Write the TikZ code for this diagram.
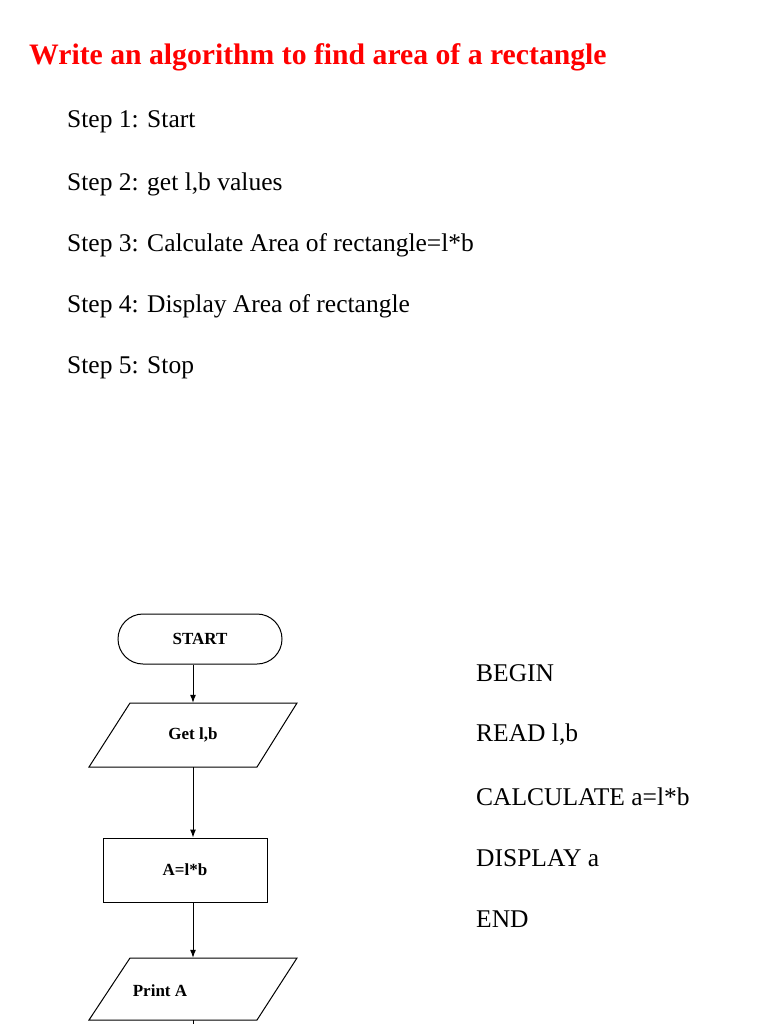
\documentclass[tikz,border=0pt]{standalone}
\usepackage{fontspec}
\usetikzlibrary{arrows.meta}
\setmainfont{Liberation Serif}
\begin{document}
\begin{tikzpicture}[x=1pt,y=-1pt,
  txt/.style={anchor=west,inner sep=0pt,font=\fontsize{25.5}{30}\selectfont},
  fc/.style={inner sep=0pt,font=\fontsize{17}{20}\selectfont\bfseries},
  box/.style={draw,line width=1pt,fill=white},
  arr/.style={-{Latex[length=8pt,width=6pt]},line width=1pt}]
\useasboundingbox[fill=white] (0,0) rectangle (768,1024);
\node[anchor=west,inner sep=0pt,text=red,font=\fontsize{29.7}{34}\selectfont\bfseries] (title) at (29,57) {Write an algorithm to find area of a rectangle};
\node[txt] (s1) at (67,122) {Step 1: Start};
\node[txt] (s2) at (67,184) {Step 2: get l,b values};
\node[txt] (s3) at (67,245) {Step 3: Calculate Area of rectangle=l*b};
\node[txt] (s4) at (67,306) {Step 4: Display Area of rectangle};
\node[txt] (s5) at (67,368) {Step 5: Stop};
\node[txt] (p1) at (476,673) {BEGIN};
\node[txt] (p2) at (476,735) {READ l,b};
\node[txt] (p3) at (476,797) {CALCULATE a=l*b};
\node[txt] (p4) at (476,858) {DISPLAY a};
\node[txt] (p5) at (476,919) {END};
% flowchart
\node[box,rounded corners=25pt,minimum width=164pt,minimum height=50pt,fc] (start) at (200,639) {START};
\draw[box] (130,703) -- (297,703) -- (257,767) -- (89,767) -- cycle;
\node[fc,minimum height=64pt,minimum width=80pt] (get) at (193,735) {Get l,b};
\node[box,minimum width=164pt,minimum height=64pt,fc] (calc) at (185,870) {A=l*b};
\draw[box] (130,958) -- (297,958) -- (257,1020) -- (89,1020) -- cycle;
\node[fc,minimum height=62pt,minimum width=80pt] (print) at (193,989) {};
\node[fc] (printtxt) at (160,991) {Print A};
\coordinate (bot) at (193,1030);
\draw[arr] (start.south -| get) -- (get.north);
\draw[arr] (get.south) -- (calc.north -| get);
\draw[arr] (calc.south -| get) -- (print.north);
\draw[line width=1pt] (print.south) -- (bot);
\end{tikzpicture}
\end{document}
